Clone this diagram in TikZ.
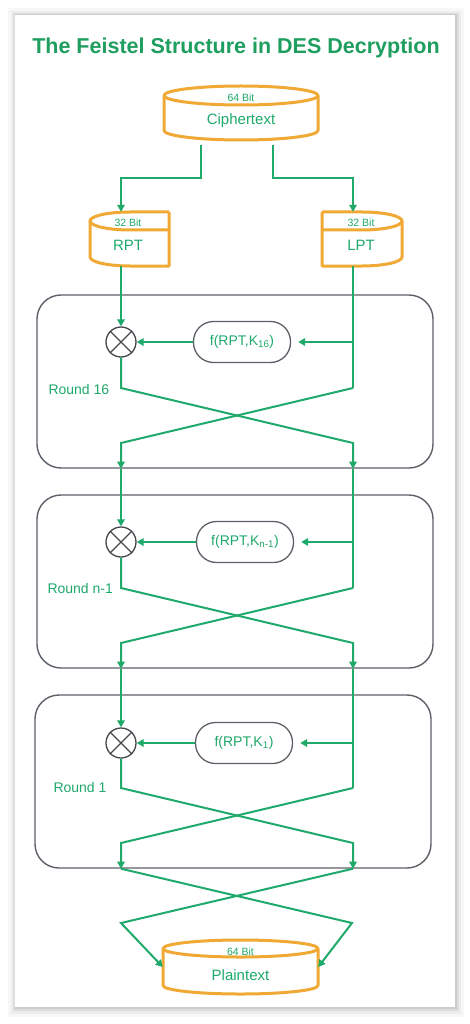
\documentclass[tikz,border=0pt]{standalone}
\usepackage{fontspec}
\setmainfont{Liberation Sans}
\usetikzlibrary{arrows.meta}
\definecolor{linegreen}{HTML}{1FA96B}
\definecolor{titlegreen}{HTML}{1E9E5F}
\definecolor{cylorange}{HTML}{F0A935}
\definecolor{framegray}{HTML}{5C6168}
\definecolor{gategray}{HTML}{46494D}
\begin{document}
\begin{tikzpicture}[x=1pt,y=-1pt,every node/.style={text=linegreen,font=\fontsize{14}{16}\selectfont},
  flow/.style={draw=linegreen,line width=2pt},
  flowarr/.style={flow,-{Triangle[length=7pt,width=7.5pt]}},
  cyl/.style={draw=cylorange,line width=3pt,line join=round},
  bits/.style={font=\fontsize{10.5}{12}\selectfont},
  cylbox/.style={minimum height=54pt,inner sep=0pt},
  roundbox/.style={draw=framegray,line width=1.4pt,rounded corners=24pt,minimum width=396pt,minimum height=173pt},
  xorgate/.style={circle,draw=gategray,line width=1.3pt,minimum size=30pt,inner sep=0pt},
  fbox/.style={draw=framegray,line width=1.3pt,rounded corners=20pt,minimum width=97pt,minimum height=41pt},
  roundlabel/.style={anchor=west}]
 \useasboundingbox (0,0) rectangle (470,1024);
 % card with its shadow
 \fill[black!3] (8,8) rectangle (464,1017);
 \fill[black!7] (11,11) rectangle (461,1014);
 \fill[black!13] (13,13) rectangle (459,1011);
 \fill[black!20] (14.5,14.5) rectangle (457,1009);
 \fill[white] (15,15) rectangle (455,1007);
 \node (title) [text=titlegreen,font=\bfseries\fontsize{21.5}{24}\selectfont] at (236,48) {The Feistel Structure in DES Decryption};
 \coordinate (lcol) at (121,0);
 \coordinate (rcol) at (353,0);
 % ciphertext
 \node (cipher) [cylbox,minimum width=154pt] at (241,113) {};
 \draw[cyl] (241,95.5) ellipse (77 and 9.5);
 \draw[cyl] (164,95.5) -- (164,130.5) arc (180:0:77 and 9.5) -- (318,95.5);
 \node (cbit) [bits] at (241,98) {64 Bit};
 \node (ctext) [font=\fontsize{15}{17}\selectfont] at (241,121) {Ciphertext};
 % halves
 \node (rpt) [cylbox,minimum width=79pt] at (129.5,239) {};
 \draw[cyl] (169,212) -- (130,212) arc (270:90:40 and 9) -- (169,230);
 \draw[cyl] (90,221) -- (90,257) arc (180:90:40 and 9) -- (169,266) -- (169,212);
 \node (rbit) [bits] at (128,222.5) {32 Bit};
 \node (rtext) [font=\fontsize{15}{17}\selectfont] at (128,245) {RPT};
 \node (lpt) [cylbox,minimum width=80pt] at (362,239) {};
 \draw[cyl] (322,212) -- (362,212) arc (-90:90:40 and 9) -- (322,230);
 \draw[cyl] (402,221) -- (402,257) arc (0:90:40 and 9) -- (322,266) -- (322,212);
 \node (lbit) [bits] at (361,222.5) {32 Bit};
 \node (ltext) [font=\fontsize{15}{17}\selectfont] at (361,245) {LPT};
 \draw[flowarr] ([xshift=-40pt,yshift=-5pt]cipher.south) -- ++(0,33) -| (rpt.north -| lcol);
 \draw[flowarr] ([xshift=32pt,yshift=-5pt]cipher.south) -- ++(0,33) -| (lpt.north -| rcol);
 % round 16
 \node (r16) [roundbox] at (235,381.5) {};
 \node (x16) [xorgate] at (121,342) {};
 \draw[gategray,line width=1.3pt] (x16.north west) -- (x16.south east) (x16.north east) -- (x16.south west);
 \node (f16) [fbox] at (242,342) {f(RPT,K\textsubscript{16})};
 \node (l16) [roundlabel] at (45,389) {Round 16};
 \coordinate (a16) at (121,388);
 \coordinate (b16) at (353,388);
 \coordinate (c16) at (121,443);
 \coordinate (d16) at (353,443);
 \draw[flowarr] (rpt.south -| lcol) -- (x16.north);
 \draw[flow] (lpt.south -| rcol) -- (b16);
 \draw[flowarr,shorten >=7pt] (f16 -| rcol) -- (f16.east);
 \draw[flowarr] (f16.west) -- (x16.east);
 \draw[flowarr] (x16.south) -- (a16) -- (d16) -- (d16 |- r16.south);
 \draw[flowarr] (b16) -- (c16) -- (c16 |- r16.south);
 % round n-1
 \node (rn) [roundbox] at (235,581.5) {};
 \node (xn) [xorgate] at (121,542) {};
 \draw[gategray,line width=1.3pt] (xn.north west) -- (xn.south east) (xn.north east) -- (xn.south west);
 \node (fn) [fbox] at (245,542) {f(RPT,K\textsubscript{n-1})};
 \node (ln) [roundlabel] at (44,588) {Round n-1};
 \coordinate (an) at (121,588);
 \coordinate (bn) at (353,588);
 \coordinate (cn) at (121,643);
 \coordinate (dn) at (353,643);
 \draw[flowarr] (c16 |- r16.south) -- (xn.north);
 \draw[flow] (d16 |- r16.south) -- (bn);
 \draw[flowarr,shorten >=7pt] (fn -| rcol) -- (fn.east);
 \draw[flowarr] (fn.west) -- (xn.east);
 \draw[flowarr] (xn.south) -- (an) -- (dn) -- (dn |- rn.south);
 \draw[flowarr] (bn) -- (cn) -- (cn |- rn.south);
 % round 1
 \node (r1) [roundbox] at (233,781.5) {};
 \node (x1) [xorgate] at (121,743) {};
 \draw[gategray,line width=1.3pt] (x1.north west) -- (x1.south east) (x1.north east) -- (x1.south west);
 \node (f1) [fbox] at (244,743) {f(RPT,K\textsubscript{1})};
 \node (l1) [roundlabel] at (50,787) {Round 1};
 \coordinate (a1) at (121,788);
 \coordinate (b1) at (353,788);
 \coordinate (c1) at (121,843);
 \coordinate (d1) at (353,843);
 \draw[flowarr] (cn |- rn.south) -- (x1.north);
 \draw[flow] (dn |- rn.south) -- (b1);
 \draw[flowarr,shorten >=7pt] (f1 -| rcol) -- (f1.east);
 \draw[flowarr] (f1.west) -- (x1.east);
 \draw[flowarr] (x1.south) -- (a1) -- (d1) -- (d1 |- r1.south);
 \draw[flowarr] (b1) -- (c1) -- (c1 |- r1.south);
 % plaintext
 \node (plain) [cylbox,minimum width=155pt] at (240.5,967) {};
 \draw[cyl] (240.5,948.5) ellipse (77.5 and 8.5);
 \draw[cyl] (163,948.5) -- (163,985.5) arc (180:0:77.5 and 8.5) -- (318,948.5);
 \node (pbit) [bits] at (240.5,952) {64 Bit};
 \node (ptext) [font=\fontsize{15}{17}\selectfont] at (240.5,975) {Plaintext};
 \coordinate (e1) at (121,923);
 \coordinate (g1) at (352,923);
 \draw[flowarr] (c1 |- r1.south) -- (g1) -- (plain.east);
 \draw[flowarr] (d1 |- r1.south) -- (e1) -- (plain.west);
\end{tikzpicture}
\end{document}
